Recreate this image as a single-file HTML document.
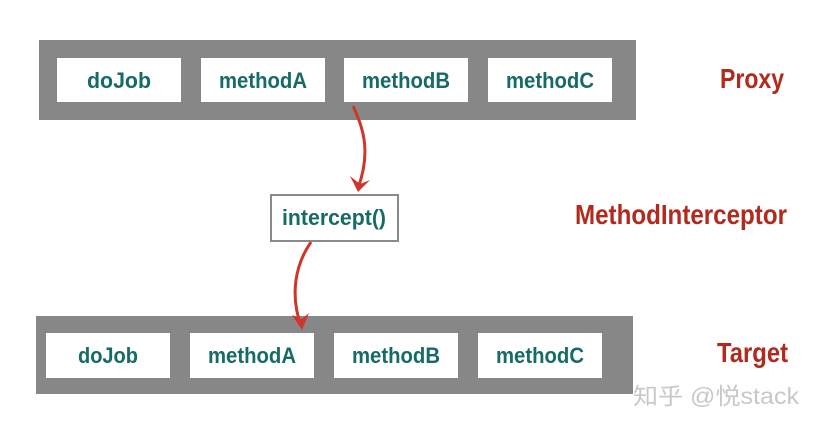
<!DOCTYPE html>
<html><head><meta charset="utf-8"><style>body{margin:0;background:#fff}</style></head><body>
<svg width="819" height="429" viewBox="0 0 819 429" xmlns="http://www.w3.org/2000/svg" style="display:block">
<rect width="819" height="429" fill="#fff"/>
<g font-family="Liberation Sans Narrow, Liberation Sans, sans-serif" font-weight="bold">
<rect x="39" y="40" width="597" height="80" fill="#878787"/>
<rect x="57" y="58" width="124" height="44" fill="#fff"/>
<rect x="201" y="58" width="124" height="44" fill="#fff"/>
<rect x="344" y="58" width="124" height="44" fill="#fff"/>
<rect x="488" y="58" width="124" height="44" fill="#fff"/>
<g fill="#176b67" font-size="22" text-anchor="middle">
<text x="119" y="88" textLength="64" lengthAdjust="spacingAndGlyphs">doJob</text>
<text x="263" y="88" textLength="88" lengthAdjust="spacingAndGlyphs">methodA</text>
<text x="406" y="88" textLength="88" lengthAdjust="spacingAndGlyphs">methodB</text>
<text x="550" y="88" textLength="88" lengthAdjust="spacingAndGlyphs">methodC</text>
</g>
<rect x="36" y="316" width="597" height="78" fill="#878787"/>
<rect x="46" y="333" width="124" height="45" fill="#fff"/>
<rect x="190" y="333" width="124" height="45" fill="#fff"/>
<rect x="334" y="333" width="124" height="45" fill="#fff"/>
<rect x="478" y="333" width="124" height="45" fill="#fff"/>
<g fill="#176b67" font-size="22" text-anchor="middle">
<text x="108" y="363" textLength="60" lengthAdjust="spacingAndGlyphs">doJob</text>
<text x="252" y="363" textLength="88" lengthAdjust="spacingAndGlyphs">methodA</text>
<text x="396" y="363" textLength="88" lengthAdjust="spacingAndGlyphs">methodB</text>
<text x="540" y="363" textLength="88" lengthAdjust="spacingAndGlyphs">methodC</text>
</g>
<rect x="271" y="195" width="127" height="46" fill="#fff" stroke="#8a8a8a" stroke-width="2"/>
<text x="334" y="225" fill="#176b67" font-size="22" text-anchor="middle" textLength="104" lengthAdjust="spacingAndGlyphs">intercept()</text>
<g fill="#b22a1e" font-size="28">
<text x="720" y="88" textLength="64" lengthAdjust="spacingAndGlyphs">Proxy</text>
<text x="575" y="224" textLength="212" lengthAdjust="spacingAndGlyphs">MethodInterceptor</text>
<text x="717" y="362" textLength="71" lengthAdjust="spacingAndGlyphs">Target</text>
</g>
</g>
<path d="M353 106 C362 125 372 150 358 188" fill="none" stroke="#d0352a" stroke-width="3"/>
<path d="M350 176 L358 192 L370 180 L360 184 Z" fill="#d0352a"/>
<path d="M311 242 C295 265 290 295 301 326" fill="none" stroke="#d0352a" stroke-width="3"/>
<path d="M292 315 L302 330 L309 313 L302 319 Z" fill="#d0352a"/>
<text x="633" y="404" fill="#c8c8c8" font-size="23" textLength="166" lengthAdjust="spacingAndGlyphs" font-family="Liberation Sans, Noto Sans CJK SC, sans-serif">知乎 @悦stack</text>
</svg>
</body></html>
